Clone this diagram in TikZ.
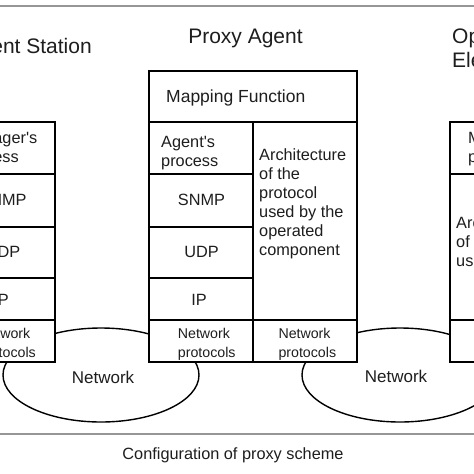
\documentclass[tikz,border=0pt]{standalone}
\usepackage{fontspec}
\setmainfont{Liberation Sans}[Ligatures=TeXOff]
\definecolor{rule}{RGB}{150,150,150}
\definecolor{ink}{RGB}{30,30,30}
\begin{document}
\begin{tikzpicture}[x=1pt,y=-1pt,
  box/.style={draw=black,line width=1.4pt,fill=white},
  netline/.style={draw=black,line width=1.4pt},
  ruleline/.style={draw=rule,line width=1.5pt},
  txt/.style={inner sep=0pt,text=ink,font=\fontsize{16.3}{19}\selectfont,align=left},
  small/.style={inner sep=0pt,text=ink,font=\fontsize{14.2}{19}\selectfont,align=left},
  title/.style={inner sep=0pt,text=ink,font=\fontsize{21}{24}\selectfont,align=left},
  netlabel/.style={inner sep=0pt,text=ink,font=\fontsize{17}{20}\selectfont}]
\clip (0,0) rectangle (474,474);
\fill[white] (0,0) rectangle (474,474);
% rules
\draw[ruleline] (0,6) -- (474,6);
\draw[ruleline] (0,434) -- (474,434);
% networks
\draw[netline] (101,375) ellipse [x radius=98, y radius=47];
\draw[netline] (400,375) ellipse [x radius=98, y radius=47];
% management station stack
\draw[box] (-50,122) rectangle (55,174);
\draw[box] (-50,174) rectangle (55,227);
\draw[box] (-50,227) rectangle (55,278);
\draw[box] (-50,278) rectangle (55,320);
\draw[box] (-50,320) rectangle (55,362);
% proxy agent
\draw[box] (149,71) rectangle (357,122);
\draw[box] (149,122) rectangle (253,174);
\draw[box] (149,174) rectangle (253,227);
\draw[box] (149,227) rectangle (253,278);
\draw[box] (149,278) rectangle (253,320);
\draw[box] (149,320) rectangle (253,362);
\draw[box] (253,122) rectangle (357,320);
\draw[box] (253,320) rectangle (357,362);
% operated element
\draw[box] (450,122) rectangle (560,174);
\draw[box] (450,174) rectangle (560,320);
\draw[box] (450,320) rectangle (560,362);
% titles (multi-line nodes: base = baseline of last line)
\node[title,anchor=base east] (tms) at (92,53) {Management Station};
\node[title,anchor=base] (tpa) at (245.5,43) {Proxy Agent};
\node[title,anchor=base west] (toe) at (452,67) {Operated\\Element};
% management station texts
\node[txt,anchor=base west] (mproc) at (-38.5,162) {Manager's\\process};
\node[txt,anchor=base] (msnmp) at (3,205) {SNMP};
\node[txt,anchor=base] (mudp) at (3,257) {UDP};
\node[txt,anchor=base] (mip) at (1,305) {IP};
\node[small,anchor=base west] (mnet) at (-22,357) {Network\\protocols};
% proxy texts
\node[txt,anchor=base west,font=\fontsize{17.5}{20}\selectfont] (pmap) at (166,102) {Mapping Function};
\node[txt,anchor=base west] (pproc) at (161,166) {Agent's\\process};
\node[txt,anchor=base] (psnmp) at (201.5,205) {SNMP};
\node[txt,anchor=base] (pudp) at (201.5,257) {UDP};
\node[txt,anchor=base] (pip) at (199,305) {IP};
\node[txt,anchor=base west] (parch) at (259,255) {Architecture\\of the\\protocol\\used by the\\operated\\component};
\node[small,anchor=base west] (pnet1) at (177.7,357) {Network\\protocols};
\node[small,anchor=base west] (pnet2) at (278.3,357) {Network\\protocols};
% operated element texts
\node[txt,anchor=base west] (oproc) at (468,162) {Managed\\process};
\node[txt,anchor=base west] (oarch) at (456,266) {Architecture\\of the protocol\\used};
\node[small,anchor=base west] (onet) at (478,357) {Network\\protocols};
% network labels
\node[netlabel,anchor=base] (n1) at (103,383) {Network};
\node[netlabel,anchor=base] (n2) at (396,382) {Network};
% caption
\node[txt,anchor=base] (cap) at (233,459) {Configuration of proxy scheme};
\end{tikzpicture}
\end{document}
